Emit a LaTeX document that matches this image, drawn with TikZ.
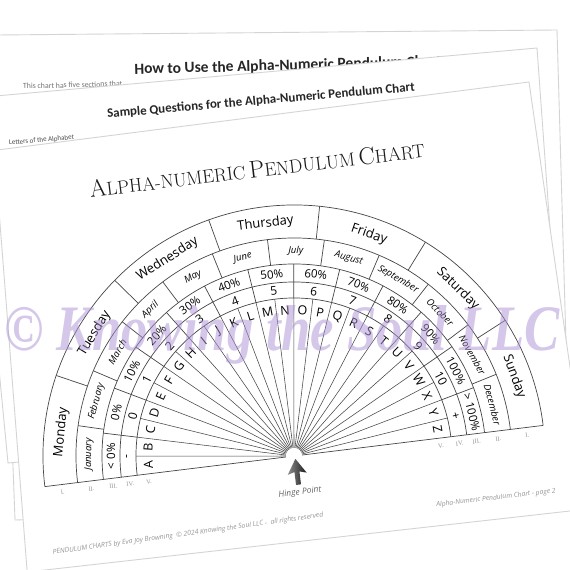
\documentclass[tikz,border=0pt]{standalone}
\usepackage{fontspec}
\usepackage{graphicx}
\newfontfamily\chartfont{Open Sans}
\newfontfamily\calfont{Carlito}
\newfontfamily\wmfont{Liberation Serif}
\newfontfamily\romfont{Liberation Serif}
\definecolor{edgegray}{RGB}{212,212,212}
\definecolor{chartline}{RGB}{70,70,70}
\definecolor{wmcol}{RGB}{170,145,212}
\definecolor{footgray}{RGB}{150,150,150}
\newcommand{\ttlbig}[1]{{\fontsize{20}{20}\selectfont #1}}
\newcommand{\ttlsm}[1]{{\fontsize{15.5}{16}\selectfont #1}}
\tikzset{
  sheet/.style={fill=white, draw=edgegray, line width=0.9pt},
  ringline/.style={draw=chartline, line width=0.7pt},
  spoke/.style={draw=chartline, line width=0.55pt},
  dayl/.style={font=\chartfont\fontsize{13}{13}\selectfont, inner sep=0},
  monl/.style={font=\chartfont\itshape\fontsize{9.5}{10}\selectfont, inner sep=0},
  pctl/.style={font=\chartfont\fontsize{11.5}{12}\selectfont, inner sep=0},
  numl/.style={font=\chartfont\fontsize{12}{12}\selectfont, inner sep=0},
  letl/.style={font=\chartfont\fontsize{12.5}{13}\selectfont, inner sep=0},
  roml/.style={font=\romfont\fontsize{6.5}{7}\selectfont, text=footgray, inner sep=0},
}
\begin{document}
\begin{tikzpicture}[x=1pt,y=-1pt]
\useasboundingbox (0,0) rectangle (570,570);
\clip (0,0) rectangle (570,570);
\fill[white] (-10,-10) rectangle (580,580);

% back sheet: How to Use
\path[sheet] (-3,35) -- (557,30) -- (570.5,500) -- (15,520) -- cycle;
\node[rotate=1.5, font=\calfont\bfseries\fontsize{15.5}{16}\selectfont, text=black!85] (howto) at (288,66) {How to Use the Alpha-Numeric Pendulum Chart};
\node[rotate=1.5, anchor=base west, font=\calfont\fontsize{7.8}{8}\selectfont, text=black!55, inner sep=0] (howtotext) at (23,89) {This chart has five sections that};

% middle sheet: Sample Questions
\path[sheet] (-27,98) -- (537,48) -- (563.3,413.7) -- (8,463) -- cycle;
\node[rotate=5, font=\calfont\bfseries\fontsize{12.9}{14}\selectfont, text=black!85] (sample) at (261,101) {Sample Questions for the Alpha-Numeric Pendulum Chart};
\node[rotate=5, anchor=base west, font=\calfont\fontsize{7}{8}\selectfont, text=black!70, inner sep=0] (lettersalpha) at (9,145) {Letters of the Alphabet};

% front sheet: chart
\path[sheet] (-5.7,150.4) -- (529,82) -- (590.4,508.7) -- (27.2,572) -- cycle;
\node[rotate=6.8, text=black!90, inner sep=0] (title) at (257,169) {\resizebox{337pt}{!}{\ttlbig{A}\ttlsm{LPHA-NUMERIC} \ttlbig{P}\ttlsm{ENDULUM} \ttlbig{C}\ttlsm{HART}}};

\begin{scope}[shift={(294,456)}, rotate=7, x=1pt, y=1pt, transform shape]
  % rings
  \foreach \r in {251,218,192,174,158}
    \draw[ringline] (\r,0) arc[start angle=0, end angle=180, radius=\r];
  \draw[ringline] (-251,0) -- (251,0);
  % dividers
  \foreach \k in {1,...,6}
    \draw[ringline] ({\k*180/7}:218) -- ({\k*180/7}:251);
  \foreach \k in {1,...,11}
    \draw[ringline] ({\k*15}:192) -- ({\k*15}:218);
  \foreach \k in {1,...,12}
    \draw[ringline] ({\k*180/13}:158) -- ({\k*180/13}:192);
  \foreach \k in {1,...,25}
    \draw[spoke] ({\k*180/26}:8) -- ({\k*180/26}:158);
  % labels
  \foreach \d [count=\i from 0] in {Monday,Tuesday,Wednesday,Thursday,Friday,Saturday,Sunday}
    \node[dayl, rotate={90-(\i+0.5)*180/7}] (day\i) at ({180-(\i+0.5)*180/7}:234) {\d};
  \foreach \m [count=\i from 0] in {January,February,March,April,May,June,July,August,September,October,November,December}
    \node[monl, rotate={90-(\i+0.5)*15}] (mon\i) at ({180-(\i+0.5)*15}:205) {\m};
  \foreach \p [count=\i from 0] in {< 0\%,0\%,10\%,20\%,30\%,40\%,50\%,60\%,70\%,80\%,90\%,100\%,> 100\%}
    \node[pctl, rotate={90-(\i+0.5)*180/13}] (pct\i) at ({180-(\i+0.5)*180/13}:183) {\p};
  \foreach \n [count=\i from 0] in {-,0,1,2,3,4,5,6,7,8,9,10,+}
    \node[numl, rotate={90-(\i+0.5)*180/13}] (num\i) at ({180-(\i+0.5)*180/13}:166) {\n};
  \foreach \l [count=\i from 0] in {A,B,C,D,E,F,G,H,I,J,K,L,M,N,O,P,Q,R,S,T,U,V,W,X,Y,Z}
    \node[letl, rotate={90-(\i+0.5)*180/26}] (let\i) at ({180-(\i+0.5)*180/26}:146) {\l};
  % roman numerals
  \foreach \t/\r [count=\i] in {I./234,II./205,III./183,IV./166,V./147} {
    \node[roml] (romL\i) at (-\r,-8) {\t};
    \node[roml] (romR\i) at (\r,-8) {\t};
  }
  % hinge
  \fill[white] (0,0) circle (8);
  \shade[left color=black!45, right color=black!90]
    (1,-3) -- (10.5,-18) -- (3.5,-16) -- (3.5,-29) -- (-1.5,-29) -- (-1.5,-16) -- (-8.5,-18) -- cycle;
  \node[font=\chartfont\itshape\fontsize{8.5}{9}\selectfont, text=black!60] (hinge) at (1.5,-37) {Hinge Point};
\end{scope}

% footers
\node[rotate=7.9, text=footgray, inner sep=0] (footl) at (188,534) {\resizebox{273pt}{!}{\chartfont\itshape PENDULUM CHARTS by Eva Joy Browning \ © 2024 Knowing the Soul LLC - \ all rights reserved}};
\node[rotate=6.7, text=footgray, inner sep=0] (footr) at (496,498) {\resizebox{120pt}{!}{\chartfont\itshape Alpha-Numeric Pendulum Chart - page 2}};

% watermark
\node[anchor=base, text=wmcol, opacity=0.5, inner sep=0] (wmark) at (282,350) {\resizebox{555pt}{45pt}{\wmfont\bfseries\itshape © Knowing the Soul LLC}};
\end{tikzpicture}
\end{document}
